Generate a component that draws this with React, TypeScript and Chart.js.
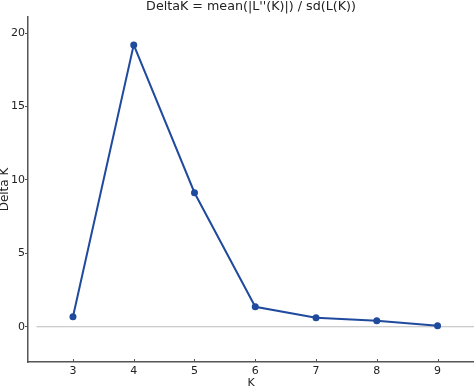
import React, { useEffect, useRef } from "react";
import { Chart, registerables } from "chart.js";

Chart.register(...registerables);

const kValues = [3, 4, 5, 6, 7, 8, 9];
const deltaK = [0.68, 19.2, 9.13, 1.36, 0.61, 0.41, 0.07];
const xTicks = [3, 4, 5, 6, 7, 8, 9];
const yTicks = [0, 5, 10, 15, 20];
const zeroLineX = [2.4, 9.7];
const zeroLineY = [0, 0];

const FONT = "'DejaVu Sans', sans-serif";

export default function App() {
  const ref = useRef<HTMLCanvasElement>(null);

  useEffect(() => {
    if (!ref.current) return;
    const xInnerTicks = {
      id: "xInnerTicks",
      afterDraw(chart: any) {
        const { ctx, scales } = chart;
        const xs = scales.x;
        const bottom = chart.chartArea.bottom;
        ctx.save();
        ctx.strokeStyle = "#555";
        ctx.lineWidth = 1;
        xTicks.forEach((v) => {
          const px = Math.round(xs.getPixelForValue(v)) + 0.5;
          ctx.beginPath();
          ctx.moveTo(px, bottom);
          ctx.lineTo(px, bottom - 3);
          ctx.stroke();
        });
        ctx.restore();
      },
    };

    const chart = new Chart(ref.current, {
      type: "line",
      data: {
        datasets: [
          {
            data: zeroLineX.map((x, i) => ({ x, y: zeroLineY[i] })),
            borderColor: "#bdbdbd",
            borderWidth: 1.2,
            pointRadius: 0,
            order: 2,
          },
          {
            data: kValues.map((k, i) => ({ x: k, y: deltaK[i] })),
            borderColor: "#1f4a9e",
            backgroundColor: "#1f4a9e",
            borderWidth: 2,
            pointRadius: 3.5,
            pointHoverRadius: 3.5,
            pointBorderWidth: 0,
            tension: 0,
            order: 1,
          },
        ],
      },
      options: {
        animation: false,
        responsive: false,
        maintainAspectRatio: false,
        layout: { padding: 0, autoPadding: false },
        plugins: {
          legend: { display: false },
          tooltip: { enabled: false },
          title: {
            display: true,
            text: "DeltaK = mean(|L''(K)|) / sd(L(K))",
            fullSize: false,
            color: "#222",
            font: { family: FONT, size: 12.7, weight: "normal", lineHeight: 1 },
            padding: { top: 0, bottom: 4.3 },
          },
        },
        scales: {
          x: {
            type: "linear",
            min: 2.26,
            max: 9.6,
            afterBuildTicks: (s: any) => {
              s.ticks = xTicks.map((v) => ({ value: v }));
            },
            afterFit: (s: any) => {
              s.height = 25;
              s.paddingLeft = 0;
              s.paddingRight = 0;
            },
            grid: { display: false, drawTicks: false },
            border: { display: true, color: "#555", width: 1.5 },
            ticks: {
              color: "#222",
              padding: 3,
              font: { family: FONT, size: 11 },
              callback: (v: any) => String(v),
            },
            title: {
              display: true,
              text: "K",
              color: "#222",
              font: { family: FONT, size: 11, lineHeight: 1 },
              padding: { top: 0, bottom: -2 },
            },
          },
          y: {
            type: "linear",
            min: -2.4,
            max: 21.1,
            afterBuildTicks: (s: any) => {
              s.ticks = yTicks.map((v) => ({ value: v }));
            },
            afterFit: (s: any) => {
              s.width = 28;
            },
            grid: {
              display: true,
              drawOnChartArea: false,
              drawTicks: true,
              tickLength: 3,
              tickColor: "#555",
            },
            border: { display: true, color: "#555", width: 1.5 },
            ticks: {
              color: "#222",
              padding: 0,
              font: { family: FONT, size: 11 },
              callback: (v: any) => String(v),
            },
            title: {
              display: true,
              text: "Delta K",
              color: "#222",
              font: { family: FONT, size: 12, lineHeight: 1 },
              padding: { top: -1, bottom: 0 },
            },
          },
        },
      },
      plugins: [xInnerTicks],
    });
    return () => chart.destroy();
  }, []);

  return (
    <div style={{ position: "fixed", left: 0, top: 0, width: 474, height: 387, background: "#fff" }}>
      <canvas ref={ref} width={474} height={387} style={{ width: 474, height: 387 }} />
    </div>
  );
}
